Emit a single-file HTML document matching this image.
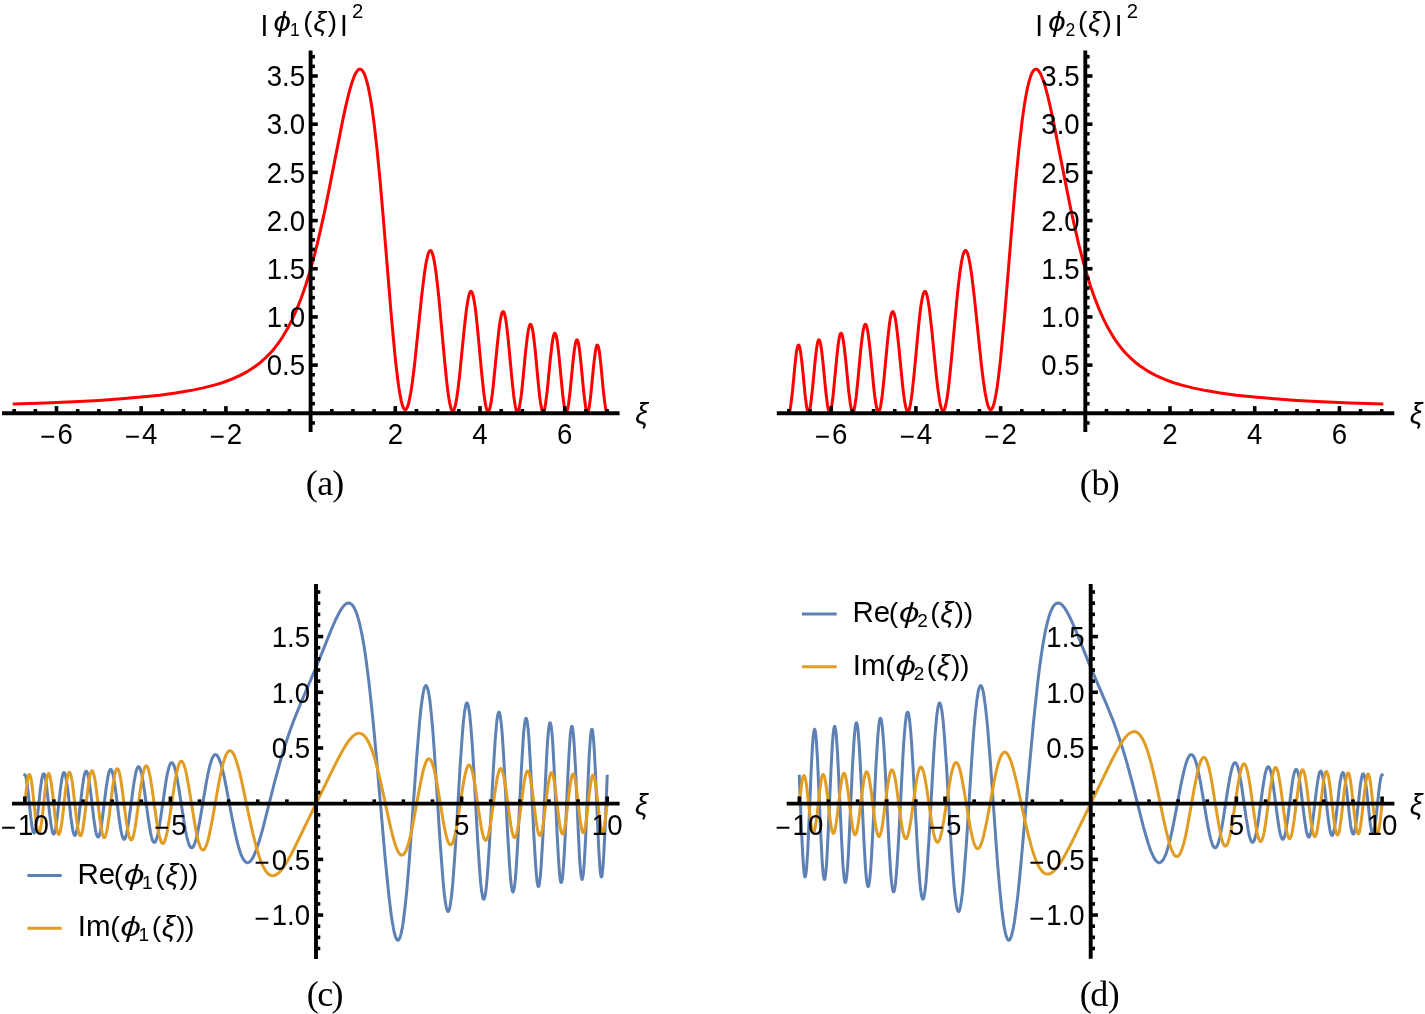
<!DOCTYPE html>
<html><head><meta charset="utf-8"><title>Figure</title>
<style>html,body{margin:0;padding:0;background:#fff;width:1425px;height:1014px;overflow:hidden}svg{display:block}</style>
</head><body>
<svg width="1425" height="1014" viewBox="0 0 1425 1014" font-family="Liberation Sans, Arial, sans-serif">
<polyline fill="none" stroke="#ff0000" stroke-width="3" stroke-linejoin="round" stroke-linecap="square" points="14.2,404.0 45.6,402.9 73.7,401.7 98.9,400.4 121.4,398.8 141.5,397.1 159.6,395.2 175.6,393.0 190.2,390.6 203.3,387.9 215.0,384.9 220.4,383.3 225.6,381.5 230.6,379.7 235.2,377.7 239.7,375.6 244.0,373.4 248.1,371.1 252.0,368.6 255.8,366.0 259.4,363.3 262.7,360.4 266.1,357.3 269.1,354.3 272.1,351.1 274.9,347.7 277.6,344.2 280.2,340.5 282.8,336.6 287.7,328.3 292.5,318.9 297.0,308.7 301.4,297.5 305.7,285.3 309.6,272.5 313.6,258.3 317.4,243.4 321.3,226.4 324.9,210.2 328.5,192.4 342.5,121.4 345.6,106.9 348.3,95.5 350.0,89.1 351.5,83.8 353.1,79.2 354.5,75.7 355.9,72.9 357.3,70.8 358.0,70.1 358.7,69.5 359.4,69.2 360.0,69.2 361.0,69.4 361.8,70.0 362.7,71.0 363.5,72.3 364.4,74.0 365.2,76.1 366.9,81.6 368.6,88.7 370.3,97.5 372.0,108.1 373.7,120.4 376.8,147.1 380.2,181.8 383.4,219.3 391.3,315.8 393.5,339.5 395.4,359.6 397.7,379.2 398.8,387.4 400.0,394.5 401.1,400.3 402.1,404.2 403.1,407.2 404.1,409.0 404.9,409.7 405.3,409.8 405.7,409.6 406.6,408.7 407.4,407.0 408.3,404.5 409.1,401.2 410.8,392.5 412.5,381.1 414.5,365.0 421.4,298.7 423.0,284.9 424.4,273.9 425.9,263.8 427.5,256.3 428.3,253.5 429.0,251.8 429.7,250.8 430.5,250.5 431.2,251.0 431.7,251.8 432.4,253.5 433.1,255.9 434.4,261.9 435.8,271.0 437.2,282.4 438.8,297.2 444.6,360.7 447.1,385.3 448.5,396.1 449.8,403.5 451.1,408.5 451.6,409.8 452.2,410.7 452.8,411.0 453.3,410.8 453.9,410.0 454.4,408.7 455.6,404.5 456.8,397.5 458.1,388.4 459.4,377.4 464.3,328.1 466.4,309.8 467.7,301.2 468.8,295.7 469.4,293.7 470.0,292.3 470.5,291.5 471.0,291.3 471.4,291.5 472.0,292.2 472.9,294.9 473.9,299.4 475.1,306.5 476.2,315.6 477.3,326.2 481.7,373.3 483.7,392.0 484.7,399.4 485.6,405.2 486.6,409.2 487.2,410.6 487.6,411.2 488.0,411.5 488.5,411.3 488.9,410.8 489.5,409.5 490.3,406.4 491.3,401.0 492.3,394.0 493.4,384.3 497.5,342.9 499.3,326.8 500.3,320.1 501.3,315.2 501.9,313.3 502.3,312.3 502.7,311.8 503.2,311.6 503.4,311.7 503.9,312.3 504.7,314.5 505.6,318.4 506.4,323.7 508.2,339.3 512.0,379.9 513.7,395.7 514.6,401.9 515.4,406.8 516.3,410.0 516.7,411.1 517.1,411.6 517.4,411.7 517.8,411.6 518.3,411.0 518.7,409.9 519.4,407.2 520.2,402.6 521.1,396.5 522.1,387.9 525.7,350.6 527.3,337.1 528.1,331.5 529.0,327.3 529.8,324.9 530.3,324.4 530.5,324.3 530.8,324.4 531.2,325.0 531.9,327.0 532.7,330.2 533.5,335.6 535.1,349.0 538.3,383.4 539.7,396.7 540.6,403.0 541.3,407.2 542.0,410.1 542.7,411.6 543.1,411.9 543.4,411.8 543.7,411.5 544.1,410.7 544.8,408.2 545.6,403.5 547.2,391.1 550.4,358.0 551.9,345.5 552.7,339.7 553.4,336.2 554.1,334.0 554.5,333.3 554.8,333.2 555.1,333.3 555.4,333.6 556.1,335.4 556.8,338.6 557.5,343.0 558.9,355.1 561.9,386.4 563.1,398.3 564.4,407.1 565.1,410.2 565.7,411.6 566.1,412.0 566.4,412.0 566.7,411.8 567.1,411.0 567.8,408.4 568.5,404.5 569.9,393.3 573.0,361.6 574.3,350.5 575.0,345.7 575.7,342.3 576.4,340.3 576.7,339.9 577.0,339.8 577.3,340.0 577.5,340.4 578.3,342.5 578.8,345.2 579.5,349.8 580.8,361.0 583.3,387.9 584.5,398.6 585.6,406.7 586.2,409.5 586.7,411.3 587.1,412.0 587.4,412.2 587.7,412.0 588.0,411.6 588.7,409.5 589.4,405.9 590.8,394.9 593.6,366.0 594.8,355.9 595.5,351.0 596.0,348.0 596.7,345.7 597.0,345.3 597.3,345.1 597.6,345.2 597.9,345.5 598.4,347.0 599.0,349.6 599.6,353.1 600.8,363.8 603.5,392.0 604.7,402.1 605.4,407.0 605.9,409.8 606.5,411.6 606.8,412.0 607.0,412.2"/>
<polyline fill="none" stroke="#ff0000" stroke-width="3" stroke-linejoin="round" stroke-linecap="square" points="788.8,412.2 789.1,412.0 789.4,411.6 790.0,409.8 790.5,407.0 791.2,402.1 792.4,392.0 795.1,363.8 796.3,353.1 796.9,349.6 797.5,347.0 798.0,345.5 798.3,345.2 798.6,345.1 798.9,345.3 799.2,345.7 799.9,348.0 800.4,351.0 801.1,355.9 802.3,366.0 805.1,394.9 806.5,405.9 807.2,409.5 807.9,411.6 808.2,412.0 808.5,412.2 808.8,412.0 809.2,411.3 809.7,409.5 810.3,406.7 811.4,398.6 812.6,387.9 815.1,361.0 816.4,349.8 817.1,345.2 817.6,342.5 818.4,340.4 818.6,340.0 818.9,339.8 819.2,339.9 819.5,340.3 820.2,342.3 820.9,345.7 821.6,350.5 822.9,361.6 826.0,393.3 827.4,404.5 828.1,408.4 828.8,411.0 829.2,411.8 829.5,412.0 829.8,412.0 830.2,411.6 830.8,410.2 831.5,407.1 832.8,398.3 834.0,386.4 837.0,355.1 838.4,343.0 839.1,338.6 839.8,335.4 840.5,333.6 840.8,333.3 841.1,333.2 841.4,333.3 841.8,334.0 842.5,336.2 843.2,339.7 844.0,345.5 845.5,358.0 848.7,391.1 850.3,403.5 851.1,408.2 851.8,410.7 852.2,411.5 852.5,411.8 852.8,411.9 853.2,411.6 853.9,410.1 854.6,407.2 855.3,403.0 856.2,396.7 857.6,383.4 860.8,349.0 862.4,335.6 863.2,330.2 864.0,327.0 864.7,325.0 865.1,324.4 865.4,324.3 865.6,324.4 866.1,324.9 866.9,327.3 867.8,331.5 868.6,337.1 870.2,350.6 873.8,387.9 874.8,396.5 875.7,402.6 876.5,407.2 877.2,409.9 877.6,411.0 878.1,411.6 878.5,411.7 878.8,411.6 879.2,411.1 879.6,410.0 880.5,406.8 881.3,401.9 882.2,395.7 883.9,379.9 887.7,339.3 889.5,323.7 890.3,318.4 891.2,314.5 892.0,312.3 892.5,311.7 892.7,311.6 893.2,311.8 893.6,312.3 894.0,313.3 894.6,315.2 895.6,320.1 896.6,326.8 898.4,342.9 902.5,384.3 903.6,394.0 904.6,401.0 905.6,406.4 906.4,409.5 907.0,410.8 907.4,411.3 907.9,411.5 908.3,411.2 908.7,410.6 909.3,409.2 910.3,405.2 911.2,399.4 912.2,392.0 914.2,373.3 918.6,326.2 919.7,315.6 920.8,306.5 922.0,299.4 923.0,294.9 923.9,292.2 924.5,291.5 924.9,291.3 925.4,291.5 925.9,292.3 926.5,293.7 927.1,295.7 928.2,301.2 929.5,309.8 931.6,328.1 936.5,377.4 937.8,388.4 939.1,397.5 940.3,404.5 941.5,408.7 942.0,410.0 942.6,410.8 943.1,411.0 943.7,410.7 944.3,409.8 944.8,408.5 946.1,403.5 947.4,396.1 948.8,385.3 951.3,360.7 957.1,297.2 958.7,282.4 960.1,271.0 961.5,261.9 962.8,255.9 963.5,253.5 964.2,251.8 964.7,251.0 965.4,250.5 966.2,250.8 966.9,251.8 967.6,253.5 968.4,256.3 970.0,263.8 971.5,273.9 972.9,284.9 974.5,298.7 981.4,365.0 983.4,381.1 985.1,392.5 986.8,401.2 987.6,404.5 988.5,407.0 989.3,408.7 990.2,409.6 990.6,409.8 991.0,409.7 991.8,409.0 992.8,407.2 993.8,404.2 994.8,400.3 995.9,394.5 997.1,387.4 998.2,379.2 1000.5,359.6 1002.4,339.5 1004.6,315.8 1012.5,219.3 1015.7,181.8 1019.1,147.1 1022.2,120.4 1023.9,108.1 1025.6,97.5 1027.3,88.7 1029.0,81.6 1030.7,76.1 1031.5,74.0 1032.4,72.3 1033.2,71.0 1034.1,70.0 1034.9,69.4 1035.9,69.2 1036.5,69.2 1037.2,69.5 1037.9,70.1 1038.6,70.8 1040.0,72.9 1041.4,75.7 1042.8,79.2 1044.4,83.8 1045.9,89.1 1047.6,95.5 1050.3,106.9 1053.4,121.4 1067.4,192.4 1071.0,210.2 1074.6,226.4 1078.5,243.4 1082.3,258.3 1086.3,272.5 1090.2,285.3 1094.5,297.5 1098.9,308.7 1103.4,318.9 1108.2,328.3 1113.1,336.6 1115.7,340.5 1118.3,344.2 1121.0,347.7 1123.8,351.1 1126.8,354.3 1129.8,357.3 1133.2,360.4 1136.5,363.3 1140.1,366.0 1143.9,368.6 1147.8,371.1 1151.9,373.4 1156.2,375.6 1160.7,377.7 1165.3,379.7 1170.3,381.5 1175.5,383.3 1180.9,384.9 1192.6,387.9 1205.7,390.6 1220.3,393.0 1236.3,395.2 1254.4,397.1 1274.5,398.8 1297.0,400.4 1322.2,401.7 1350.3,402.9 1381.8,404.0"/>
<polyline fill="none" stroke="#5e81b5" stroke-width="3.0" stroke-linejoin="round" stroke-linecap="square" points="24.8,774.8 25.1,774.9 25.4,775.4 26.0,777.2 26.5,780.0 27.1,783.7 28.2,792.5 30.8,817.4 32.0,826.2 32.6,829.5 33.1,831.4 33.6,832.7 34.1,833.1 34.4,832.9 34.7,832.4 35.3,830.7 35.9,828.0 36.5,823.7 37.7,814.2 40.3,789.6 41.7,779.7 42.4,776.4 43.0,774.4 43.4,773.9 43.7,773.8 44.0,773.9 44.4,774.6 44.9,776.0 45.5,778.5 46.5,785.4 49.9,816.0 51.2,825.7 51.9,829.6 52.5,832.1 53.0,833.6 53.3,834.0 53.6,834.1 53.9,834.0 54.2,833.7 54.9,832.0 55.6,829.0 56.2,824.9 57.5,815.1 60.4,788.9 61.9,778.7 62.6,775.5 63.2,773.4 63.6,772.8 63.9,772.6 64.2,772.6 64.5,772.9 65.1,774.1 65.7,776.2 66.9,783.3 68.1,792.4 70.9,817.4 72.3,827.2 72.9,830.9 73.6,833.5 74.3,835.1 74.6,835.4 74.9,835.4 75.2,835.3 75.6,834.8 76.2,832.9 76.9,830.0 77.7,825.6 79.1,815.4 82.2,788.6 83.7,778.1 84.5,774.4 85.2,772.3 85.9,771.3 86.1,771.1 86.5,771.3 87.2,772.4 87.9,774.6 88.6,777.8 89.3,782.4 90.7,792.6 93.7,818.1 95.3,828.7 96.0,832.6 96.7,835.1 97.4,836.6 97.8,837.0 98.1,837.1 98.5,836.9 98.9,836.4 99.6,834.4 100.4,831.3 101.2,827.0 102.7,816.0 106.1,788.2 107.9,776.9 108.7,773.3 109.4,770.8 110.2,769.5 110.6,769.3 111.0,769.4 111.4,769.8 111.8,770.5 112.5,772.7 113.3,776.0 114.2,780.9 115.7,791.0 119.2,819.6 121.0,830.7 121.8,834.4 122.5,837.0 123.3,838.7 123.7,839.1 124.1,839.3 124.5,839.1 125.0,838.6 125.8,836.6 126.7,833.3 127.7,828.3 129.4,816.7 133.4,786.4 134.4,780.0 135.4,774.7 136.2,771.0 137.1,768.4 138.0,766.9 138.4,766.7 138.9,766.7 139.2,767.1 139.7,767.8 140.6,770.0 141.6,773.7 142.5,778.6 144.3,789.8 148.6,821.1 150.6,833.1 151.6,837.2 152.5,840.2 153.5,842.0 154.0,842.3 154.4,842.4 154.9,842.2 155.4,841.6 156.4,839.3 157.5,835.6 158.7,830.0 160.6,818.3 165.4,785.2 166.6,777.6 167.8,771.8 168.9,767.3 170.0,764.5 170.6,763.5 171.1,762.9 171.6,762.7 172.1,762.8 172.6,763.1 173.2,763.9 174.4,766.6 175.5,770.7 176.7,776.0 178.9,788.8 184.2,823.1 185.5,830.8 186.8,836.8 188.1,841.7 189.3,845.2 190.0,846.5 190.6,847.3 191.2,847.7 191.8,847.8 192.3,847.6 193.0,847.0 193.7,845.9 194.4,844.4 195.8,840.1 197.3,834.1 199.9,820.5 206.4,781.7 208.2,772.8 209.8,765.7 211.5,760.3 212.2,758.3 213.0,756.8 213.8,755.7 214.6,754.9 215.3,754.6 216.1,754.8 216.9,755.3 217.7,756.2 218.4,757.5 219.3,759.4 221.0,764.1 222.7,770.6 224.3,777.4 225.9,785.4 231.9,817.3 234.4,829.4 236.8,840.2 239.1,848.8 240.4,852.7 241.5,855.7 242.8,858.4 244.0,860.3 245.1,861.6 246.4,862.5 247.7,862.7 248.9,862.4 250.0,861.6 251.2,860.3 252.3,858.6 253.5,856.5 255.9,850.9 258.6,843.0 260.9,835.5 263.4,826.3 274.6,782.0 280.5,760.6 283.8,749.5 287.1,739.2 290.5,729.3 294.1,719.6 300.5,703.7 317.0,665.1 331.3,629.6 335.9,619.2 339.6,611.9 341.2,609.2 342.9,606.9 344.4,605.1 345.9,603.9 347.3,603.2 348.6,603.0 349.9,603.2 351.0,603.9 352.2,604.9 353.3,606.3 354.3,608.1 355.4,610.3 356.5,613.0 357.5,616.1 359.6,623.5 361.6,632.7 363.7,643.9 365.6,656.5 367.4,670.1 369.3,685.3 373.1,721.3 376.8,761.3 384.9,855.4 387.1,878.0 389.0,896.6 391.2,914.7 392.3,921.9 393.4,928.1 394.4,933.0 395.4,936.5 396.4,938.8 396.9,939.6 397.3,940.1 397.8,940.2 398.3,940.1 398.8,939.7 399.3,939.0 400.3,936.7 401.1,933.5 402.1,928.9 403.1,923.0 405.0,907.8 407.0,888.4 409.1,862.8 416.5,759.9 419.4,724.1 421.0,708.0 422.6,696.3 423.4,692.0 424.1,688.8 424.9,686.6 425.6,685.7 426.0,685.6 426.4,685.8 427.0,686.8 427.7,688.7 428.4,691.6 429.8,700.0 431.2,712.8 432.7,729.1 434.3,751.1 440.2,843.4 442.8,877.8 444.1,892.2 445.4,902.3 446.1,906.3 446.7,908.8 447.3,910.7 447.9,911.4 448.2,911.4 448.5,911.2 449.1,910.1 449.7,908.1 450.2,905.3 451.4,897.0 452.6,885.5 453.7,871.2 455.1,851.5 460.1,766.5 462.2,736.3 463.3,722.6 464.5,712.1 465.6,705.9 466.2,703.9 466.6,703.0 466.9,702.9 467.1,702.9 467.6,703.6 468.1,705.0 468.7,707.7 469.8,715.2 470.8,726.1 471.9,739.9 473.1,757.8 477.6,839.2 479.6,869.3 480.6,882.2 481.6,891.1 482.6,896.8 483.1,898.5 483.5,899.2 483.8,899.3 484.0,899.1 484.4,898.4 484.9,896.7 485.4,894.1 486.3,887.4 487.2,876.9 488.2,863.6 489.3,846.4 493.3,770.0 495.1,741.5 496.1,729.0 496.9,720.5 497.8,714.8 498.3,713.0 498.7,712.3 499.1,712.2 499.5,712.7 499.8,713.9 500.3,716.2 501.2,722.9 502.1,732.5 503.0,746.2 504.0,762.5 507.8,836.3 509.5,864.2 510.3,875.8 511.2,884.5 512.1,889.9 512.5,891.2 512.9,891.8 513.0,891.9 513.2,891.7 513.6,890.9 514.4,887.1 515.2,880.6 516.0,871.5 517.7,843.4 521.2,772.8 522.8,745.5 523.6,733.5 524.4,725.6 525.2,720.4 525.6,719.0 525.9,718.4 526.1,718.3 526.2,718.3 526.5,718.8 526.9,720.1 527.3,722.2 528.1,728.6 528.9,737.9 530.5,765.2 533.8,833.9 535.3,860.2 536.1,871.3 536.8,879.6 537.6,884.8 538.0,886.1 538.3,886.6 538.6,886.6 539.0,885.8 539.6,882.4 540.3,876.5 541.1,866.9 542.7,840.2 545.7,775.7 547.0,750.1 547.8,738.5 548.5,730.8 549.2,725.5 549.5,723.7 549.8,723.0 550.0,722.8 550.2,722.8 550.5,723.3 551.2,726.4 551.9,732.3 552.6,740.7 554.1,767.7 557.1,833.6 558.4,857.5 559.1,867.7 559.7,875.5 560.4,880.5 560.8,882.1 561.1,882.6 561.4,882.6 561.7,882.0 562.4,878.5 562.9,873.2 563.6,864.5 565.1,838.3 567.9,775.2 569.1,752.4 570.3,734.6 571.0,729.0 571.6,726.6 571.9,726.3 572.2,726.6 572.5,727.5 572.8,729.6 573.4,734.7 574.1,743.3 575.5,767.7 578.3,831.9 579.4,855.1 580.1,865.6 580.7,872.5 581.3,877.2 581.9,879.4 582.2,879.5 582.4,879.0 583.1,875.5 583.7,869.9 584.4,860.5 585.7,836.5 589.1,757.3 590.3,739.1 590.9,733.3 591.4,730.3 591.7,729.4 592.0,729.2 592.3,729.6 592.6,731.2 593.3,736.8 594.0,745.6 595.3,769.2 597.8,829.0 598.9,851.4 600.0,869.0 600.6,874.2 601.1,876.5 601.4,876.9 601.7,876.7 602.0,875.7 602.3,873.4 602.9,867.6 603.6,857.8 604.9,832.5 607.2,776.2"/>
<polyline fill="none" stroke="#e19c24" stroke-width="3.0" stroke-linejoin="round" stroke-linecap="square" points="24.8,803.2 26.5,787.8 27.7,779.1 28.3,776.5 28.9,774.9 29.2,774.6 29.5,774.5 29.8,774.8 30.0,775.2 30.5,776.7 31.0,778.8 32.1,785.8 35.5,817.1 36.7,826.6 37.4,830.2 38.0,832.2 38.4,833.0 38.7,833.3 39.0,833.3 39.3,833.0 39.7,832.0 40.3,829.9 41.5,822.9 42.6,814.1 45.1,790.5 46.4,780.4 47.1,776.8 47.7,774.8 48.1,773.9 48.4,773.6 48.7,773.5 49.0,773.7 49.6,774.8 50.1,776.8 51.3,783.5 52.5,792.8 55.2,817.6 56.5,827.5 57.2,831.0 57.8,833.1 58.5,834.3 58.8,834.4 59.1,834.3 59.6,833.4 60.3,831.2 61.6,824.1 62.8,815.0 65.6,789.8 66.9,779.9 67.6,776.3 68.3,773.8 69.0,772.5 69.3,772.3 69.5,772.3 69.8,772.5 70.2,773.2 70.9,775.3 71.6,778.5 72.3,782.6 73.5,792.3 76.4,817.8 78.0,828.7 78.7,832.0 79.4,834.4 80.0,835.6 80.3,835.8 80.6,835.8 80.9,835.5 81.3,834.9 82.0,832.9 82.7,829.9 83.4,825.4 84.8,815.3 87.9,788.7 89.4,778.2 90.2,774.4 90.9,772.2 91.6,771.0 91.9,770.8 92.3,770.8 92.9,771.6 93.7,773.9 94.4,776.9 95.2,781.3 96.6,791.8 99.8,818.5 101.5,829.6 102.3,833.3 103.0,835.9 103.8,837.3 104.1,837.5 104.5,837.5 105.2,836.7 105.9,834.7 106.7,831.5 107.6,826.7 109.2,815.8 112.5,788.3 114.3,777.0 115.2,772.9 115.9,770.4 116.7,769.0 117.1,768.7 117.5,768.7 117.9,769.1 118.3,769.6 119.1,771.7 119.9,775.2 120.8,779.8 122.4,791.0 126.1,819.8 128.0,831.3 128.9,835.3 129.7,838.1 130.6,839.6 131.0,839.9 131.4,839.9 131.8,839.6 132.3,839.0 133.1,836.8 134.0,833.4 135.0,828.5 136.7,817.1 140.8,786.5 142.7,774.9 143.7,770.7 144.6,767.9 145.1,766.9 145.6,766.2 145.9,765.9 146.4,765.9 146.9,766.2 147.4,766.8 148.4,769.2 149.3,772.8 150.4,778.0 152.2,789.5 156.7,821.5 157.9,828.6 158.9,834.2 160.0,838.6 161.0,841.4 161.6,842.5 162.1,843.1 162.5,843.4 163.0,843.4 163.5,843.1 164.1,842.4 165.2,839.9 166.2,836.1 167.4,830.7 169.5,818.1 174.5,784.6 175.8,776.8 177.0,771.1 178.2,766.6 179.3,763.4 179.9,762.3 180.5,761.6 181.0,761.3 181.6,761.3 182.1,761.6 182.7,762.3 183.3,763.3 184.0,764.9 185.3,769.0 186.6,774.9 189.0,788.2 194.8,824.1 196.3,832.5 197.8,839.1 199.2,844.3 200.6,847.7 201.3,848.8 201.9,849.5 202.6,849.9 203.3,849.9 204.0,849.5 204.8,848.6 205.4,847.5 206.2,845.7 207.8,841.0 209.3,834.9 212.2,820.4 219.2,780.9 221.3,771.0 223.1,763.5 225.0,757.6 225.9,755.2 226.8,753.5 227.8,752.1 228.6,751.2 229.5,750.8 230.5,750.8 231.4,751.3 232.3,752.2 233.3,753.7 234.3,755.5 236.3,760.8 238.4,767.9 240.3,775.2 242.3,784.1 249.7,819.2 252.9,833.6 256.2,846.7 259.3,856.9 261.0,861.5 262.5,865.1 264.2,868.4 265.8,871.1 267.5,873.1 269.2,874.6 271.0,875.5 272.7,875.8 274.3,875.6 275.8,874.9 277.5,873.9 279.2,872.4 281.1,870.4 282.9,868.0 284.8,865.2 287.0,861.8 291.1,854.5 295.9,845.0 330.9,773.2 336.8,761.4 341.2,753.0 343.8,748.5 346.1,744.7 348.3,741.5 350.4,738.8 352.3,736.7 354.2,735.0 356.0,734.0 357.7,733.3 358.7,733.2 359.7,733.2 361.5,733.8 363.4,734.9 365.1,736.7 366.9,739.2 368.6,742.3 370.4,746.1 372.1,750.7 373.7,755.3 375.3,760.7 378.7,773.7 382.0,788.1 389.6,823.1 391.6,831.7 393.5,838.8 395.6,845.7 397.5,850.5 398.5,852.3 399.5,853.7 400.4,854.6 401.3,855.1 402.3,855.1 403.2,854.7 404.0,853.9 405.0,852.5 405.9,850.9 406.9,848.6 408.7,842.8 410.5,835.6 412.6,826.0 419.7,787.2 422.6,773.1 424.1,767.2 425.7,762.7 426.5,761.0 427.1,759.9 427.9,759.1 428.6,758.8 429.3,758.8 430.0,759.2 430.6,759.9 431.3,761.1 432.7,764.4 434.1,769.4 435.6,775.9 437.1,784.1 442.8,818.4 445.2,831.4 446.6,837.1 447.8,841.2 448.5,842.7 449.1,843.8 449.7,844.4 450.2,844.8 450.8,844.8 451.4,844.4 452.0,843.7 452.6,842.7 453.7,839.5 454.9,835.1 456.1,829.6 457.4,822.0 462.4,789.5 464.5,777.3 465.7,772.1 466.7,768.5 467.8,766.1 468.4,765.4 468.9,765.1 469.4,765.1 469.9,765.5 470.3,766.1 470.9,767.2 471.9,769.9 473.0,774.2 474.0,779.6 475.2,786.6 479.6,816.9 481.5,828.6 482.6,833.7 483.5,837.1 484.5,839.4 485.0,840.0 485.5,840.3 486.0,840.2 486.4,839.9 487.2,838.5 488.1,835.9 489.1,831.9 490.0,826.8 491.1,820.2 495.2,790.6 496.9,779.6 497.9,774.8 498.8,771.6 499.7,769.5 500.1,768.8 500.5,768.6 500.9,768.6 501.3,768.9 502.2,770.4 503.0,773.1 503.9,776.9 505.8,788.1 509.5,816.0 511.0,826.2 511.9,830.8 512.8,834.4 513.6,836.6 514.0,837.2 514.4,837.5 514.8,837.5 515.2,837.2 516.0,835.9 516.7,833.4 517.6,829.5 519.4,818.5 522.8,792.0 524.3,781.4 525.2,776.7 526.0,773.7 526.7,771.7 527.4,770.9 527.8,770.9 528.1,771.1 528.9,772.5 529.6,775.0 530.4,778.6 532.1,789.3 535.3,815.1 536.7,825.3 537.5,829.6 538.2,832.5 539.0,834.6 539.6,835.5 540.0,835.5 540.3,835.3 541.0,834.1 541.7,831.9 542.5,828.3 544.0,818.1 547.1,792.5 548.5,782.7 549.3,778.3 549.9,775.4 550.6,773.5 551.0,772.9 551.3,772.7 551.6,772.6 552.0,772.9 552.6,774.2 553.3,776.6 554.0,780.0 555.5,789.9 558.4,814.6 559.6,823.9 560.3,828.0 561.0,831.0 561.7,833.1 562.1,833.7 562.4,834.0 562.6,834.0 562.9,833.8 563.6,832.5 564.3,830.1 565.0,826.7 566.3,817.2 569.1,792.9 570.3,784.0 571.6,777.1 572.3,775.0 572.8,774.1 573.1,774.0 573.4,774.1 574.1,775.3 574.7,777.2 575.4,780.6 576.7,790.1 579.4,814.0 580.6,823.0 581.3,827.2 581.9,829.9 582.4,831.8 583.0,832.7 583.3,832.8 583.6,832.7 584.3,831.4 584.9,829.2 585.6,825.7 586.8,816.5 589.3,793.8 590.4,785.2 591.6,778.5 592.2,776.4 592.6,775.4 592.9,775.1 593.2,775.1 593.5,775.3 593.9,776.1 594.5,778.0 595.2,781.5 596.4,790.6 599.9,821.5 601.0,828.0 601.5,830.0 602.0,831.3 602.2,831.7 602.5,831.8 602.8,831.7 603.1,831.3 603.7,829.6 604.3,827.0 605.5,818.4 607.2,803.4"/>
<polyline fill="none" stroke="#5e81b5" stroke-width="3.0" stroke-linejoin="round" stroke-linecap="square" points="799.3,776.2 801.6,832.5 802.9,857.8 803.6,867.6 804.2,873.4 804.5,875.7 804.8,876.7 805.1,876.9 805.4,876.5 805.9,874.2 806.5,869.0 807.7,851.4 808.7,829.0 811.2,769.2 812.5,745.6 813.2,736.8 813.9,731.2 814.3,729.6 814.5,729.2 814.8,729.4 815.1,730.3 815.6,733.3 816.2,739.1 817.4,757.3 820.9,836.5 822.1,860.5 822.8,869.9 823.4,875.5 824.1,879.0 824.4,879.5 824.7,879.4 825.2,877.2 825.8,872.5 826.4,865.6 827.1,855.1 828.2,831.9 831.1,767.7 832.4,743.3 833.1,734.7 833.7,729.6 834.1,727.5 834.4,726.6 834.7,726.3 834.9,726.6 835.5,729.0 836.2,734.6 837.5,752.4 838.6,775.2 841.5,838.3 842.9,864.5 843.6,873.2 844.2,878.5 844.9,882.0 845.1,882.6 845.4,882.6 845.7,882.1 846.1,880.5 846.8,875.5 847.5,867.7 848.2,857.5 849.4,833.6 852.4,767.7 854.0,740.7 854.7,732.3 855.3,726.4 856.0,723.3 856.3,722.8 856.5,722.8 856.7,723.0 857.0,723.7 857.4,725.5 858.1,730.8 858.7,738.5 859.5,750.1 860.9,775.7 863.9,840.2 865.4,866.9 866.2,876.5 866.9,882.4 867.6,885.8 868.0,886.6 868.3,886.6 868.6,886.1 868.9,884.8 869.7,879.6 870.5,871.3 871.3,860.2 872.7,833.9 876.0,765.2 877.7,737.9 878.5,728.6 879.2,722.2 879.6,720.1 880.0,718.8 880.3,718.3 880.5,718.3 880.7,718.4 881.0,719.0 881.4,720.4 882.2,725.6 882.9,733.5 883.8,745.5 885.4,772.8 888.9,843.4 890.6,871.5 891.4,880.6 892.2,887.1 892.9,890.9 893.3,891.7 893.5,891.9 893.7,891.8 894.1,891.2 894.5,889.9 895.4,884.5 896.2,875.8 897.1,864.2 898.8,836.3 902.6,762.5 903.5,746.2 904.5,732.5 905.4,722.9 906.2,716.2 906.7,713.9 907.1,712.7 907.5,712.2 907.9,712.3 908.3,713.0 908.8,714.8 909.6,720.5 910.5,729.0 911.5,741.5 913.2,770.0 917.3,846.4 918.4,863.6 919.4,876.9 920.3,887.4 921.2,894.1 921.7,896.7 922.2,898.4 922.6,899.1 922.8,899.3 923.0,899.2 923.5,898.5 924.0,896.8 925.0,891.1 926.0,882.2 927.0,869.3 929.0,839.2 933.5,757.8 934.7,739.9 935.8,726.1 936.8,715.2 937.9,707.7 938.5,705.0 939.0,703.6 939.5,702.9 939.7,702.9 939.9,703.0 940.4,703.9 941.0,705.9 942.1,712.1 943.3,722.6 944.4,736.3 946.5,766.5 951.5,851.5 952.9,871.2 954.0,885.5 955.2,897.0 956.4,905.3 956.9,908.1 957.5,910.1 958.1,911.2 958.4,911.4 958.7,911.4 959.3,910.7 960.0,908.8 960.5,906.3 961.2,902.3 962.5,892.2 963.8,877.8 966.4,843.4 972.3,751.1 973.9,729.1 975.4,712.8 976.9,700.0 978.2,691.6 978.9,688.7 979.6,686.8 980.3,685.8 980.6,685.6 981.0,685.7 981.7,686.6 982.5,688.8 983.3,692.0 984.0,696.3 985.6,708.0 987.3,724.1 990.2,759.9 997.5,862.8 999.7,888.4 1001.6,907.8 1003.6,923.0 1004.5,928.9 1005.5,933.5 1006.4,936.7 1007.4,939.0 1007.8,939.7 1008.3,940.1 1008.8,940.2 1009.3,940.1 1009.8,939.6 1010.3,938.8 1011.2,936.5 1012.2,933.0 1013.3,928.1 1014.4,921.9 1015.4,914.7 1017.7,896.6 1019.6,878.0 1021.7,855.4 1029.9,761.3 1033.6,721.3 1037.4,685.3 1039.2,670.1 1041.1,656.5 1043.0,643.9 1045.0,632.7 1047.1,623.5 1049.1,616.1 1050.2,613.0 1051.3,610.3 1052.3,608.1 1053.4,606.3 1054.5,604.9 1055.6,603.9 1056.8,603.2 1058.1,603.0 1059.4,603.2 1060.8,603.9 1062.2,605.1 1063.8,606.9 1065.4,609.2 1067.1,611.9 1070.8,619.2 1075.4,629.6 1089.7,665.1 1106.2,703.7 1112.7,719.6 1116.2,729.3 1119.6,739.2 1122.9,749.5 1126.3,760.6 1132.1,782.0 1143.3,826.3 1145.9,835.5 1148.1,843.0 1150.8,850.9 1153.3,856.5 1154.4,858.6 1155.6,860.3 1156.8,861.6 1157.8,862.4 1159.1,862.7 1160.3,862.5 1161.6,861.6 1162.8,860.3 1163.9,858.4 1165.2,855.7 1166.4,852.7 1167.6,848.8 1170.0,840.2 1172.4,829.4 1174.8,817.3 1180.8,785.4 1182.5,777.4 1184.0,770.6 1185.8,764.1 1187.4,759.4 1188.3,757.5 1189.1,756.2 1189.9,755.3 1190.7,754.8 1191.4,754.6 1192.2,754.9 1193.0,755.7 1193.8,756.8 1194.5,758.3 1195.3,760.3 1197.0,765.7 1198.6,772.8 1200.4,781.7 1206.9,820.5 1209.5,834.1 1211.0,840.1 1212.4,844.4 1213.1,845.9 1213.8,847.0 1214.4,847.6 1215.0,847.8 1215.6,847.7 1216.2,847.3 1216.8,846.5 1217.5,845.2 1218.7,841.7 1220.0,836.8 1221.2,830.8 1222.6,823.1 1227.9,788.8 1230.1,776.0 1231.3,770.7 1232.4,766.6 1233.6,763.9 1234.2,763.1 1234.7,762.8 1235.2,762.7 1235.7,762.9 1236.2,763.5 1236.8,764.5 1237.9,767.3 1239.0,771.8 1240.2,777.6 1241.5,785.2 1246.2,818.3 1248.2,830.0 1249.3,835.6 1250.4,839.3 1251.5,841.6 1251.9,842.2 1252.4,842.4 1252.8,842.3 1253.3,842.0 1254.3,840.2 1255.2,837.2 1256.2,833.1 1258.3,821.1 1262.5,789.8 1264.3,778.6 1265.2,773.7 1266.2,770.0 1267.1,767.8 1267.6,767.1 1268.0,766.7 1268.5,766.7 1268.8,766.9 1269.7,768.4 1270.6,771.0 1271.5,774.7 1272.4,780.0 1273.4,786.4 1277.4,816.7 1279.1,828.3 1280.1,833.3 1281.0,836.6 1281.9,838.6 1282.3,839.1 1282.7,839.3 1283.1,839.1 1283.5,838.7 1284.3,837.0 1285.1,834.4 1285.8,830.7 1287.6,819.6 1291.2,791.0 1292.6,780.9 1293.5,776.0 1294.3,772.7 1295.1,770.5 1295.5,769.8 1295.8,769.4 1296.2,769.3 1296.6,769.5 1297.4,770.8 1298.2,773.3 1299.0,776.9 1300.7,788.2 1304.1,816.0 1305.7,827.0 1306.4,831.3 1307.2,834.4 1308.0,836.4 1308.4,836.9 1308.8,837.1 1309.1,837.0 1309.4,836.6 1310.1,835.1 1310.8,832.6 1311.6,828.7 1313.1,818.1 1316.1,792.6 1317.5,782.4 1318.3,777.8 1319.0,774.6 1319.6,772.4 1320.3,771.3 1320.7,771.1 1321.0,771.3 1321.7,772.3 1322.4,774.4 1323.1,778.1 1324.7,788.6 1327.8,815.4 1329.2,825.6 1329.9,830.0 1330.6,832.9 1331.3,834.8 1331.7,835.3 1332.0,835.4 1332.3,835.4 1332.6,835.1 1333.2,833.5 1333.9,830.9 1334.6,827.2 1336.0,817.4 1338.8,792.4 1339.9,783.3 1341.2,776.2 1341.8,774.1 1342.4,772.9 1342.7,772.6 1343.0,772.6 1343.2,772.8 1343.6,773.4 1344.3,775.5 1345.0,778.7 1346.5,788.9 1349.4,815.1 1350.6,824.9 1351.3,829.0 1352.0,832.0 1352.7,833.7 1353.0,834.0 1353.3,834.1 1353.5,834.0 1353.8,833.6 1354.4,832.1 1355.0,829.6 1355.7,825.7 1356.9,816.0 1360.3,785.4 1361.4,778.5 1362.0,776.0 1362.5,774.6 1362.9,773.9 1363.2,773.8 1363.5,773.9 1363.8,774.4 1364.5,776.4 1365.2,779.7 1366.6,789.6 1369.2,814.2 1370.3,823.7 1371.0,828.0 1371.6,830.7 1372.2,832.4 1372.5,832.9 1372.8,833.1 1373.3,832.7 1373.8,831.4 1374.3,829.5 1374.9,826.2 1376.1,817.4 1378.7,792.5 1379.8,783.7 1380.4,780.0 1380.9,777.2 1381.5,775.4 1381.8,774.9 1382.1,774.8"/>
<polyline fill="none" stroke="#e19c24" stroke-width="3.0" stroke-linejoin="round" stroke-linecap="square" points="799.3,804.0 801.0,788.9 802.2,780.3 802.8,777.7 803.4,776.1 803.7,775.7 804.0,775.5 804.3,775.7 804.5,776.1 805.0,777.3 805.5,779.3 806.6,785.8 810.1,816.7 811.3,825.9 812.0,829.3 812.6,831.3 813.0,832.0 813.3,832.3 813.6,832.3 813.9,832.0 814.4,831.0 814.9,828.9 816.1,822.1 817.2,813.6 819.7,790.9 821.0,781.7 821.6,778.1 822.2,776.0 822.9,774.7 823.2,774.5 823.5,774.6 824.1,775.5 824.7,777.4 825.2,780.1 825.9,784.3 827.1,793.3 829.8,817.3 831.2,826.8 831.8,830.1 832.4,832.1 833.1,833.3 833.4,833.4 833.7,833.3 834.3,832.4 834.9,830.2 836.2,823.3 837.4,814.5 840.2,790.1 841.6,780.7 842.2,777.2 842.9,774.8 843.6,773.5 843.9,773.3 844.2,773.4 844.5,773.6 844.9,774.3 845.5,776.3 846.2,779.4 846.9,783.4 848.2,792.8 851.1,817.4 852.5,827.3 853.2,830.7 853.9,833.1 854.6,834.4 855.0,834.7 855.2,834.7 855.5,834.5 855.9,833.8 856.6,831.9 857.3,829.0 858.1,824.6 859.4,814.8 862.5,789.2 864.1,779.0 864.9,775.4 865.5,773.2 866.2,772.0 866.5,771.8 866.9,771.9 867.6,772.7 868.4,774.9 869.0,777.8 869.8,782.0 871.3,792.2 874.5,818.0 876.1,828.7 876.9,832.3 877.7,834.9 878.5,836.2 878.8,836.4 879.1,836.4 879.8,835.6 880.6,833.7 881.4,830.6 882.3,826.0 883.8,815.4 887.2,788.8 889.0,777.9 889.8,773.9 890.6,771.5 891.4,770.1 891.8,769.9 892.2,769.9 892.5,770.2 892.9,770.7 893.8,773.0 894.7,776.5 895.6,781.1 897.1,791.4 900.8,819.2 902.6,830.4 903.5,834.3 904.4,837.0 905.3,838.5 905.7,838.7 906.0,838.7 906.4,838.5 906.9,837.9 907.8,835.8 908.7,832.5 909.6,827.7 911.4,816.7 915.5,787.2 916.5,780.5 917.5,775.4 918.5,771.4 919.4,768.9 920.2,767.4 920.6,767.1 921.1,767.1 921.6,767.3 922.1,768.0 923.0,770.2 924.0,773.7 925.1,778.7 927.0,790.5 931.4,820.8 932.6,827.7 933.6,833.1 934.7,837.4 935.7,840.2 936.3,841.3 936.7,841.9 937.2,842.2 937.7,842.2 938.2,841.9 938.8,841.2 939.9,838.8 940.9,835.2 942.1,830.0 944.2,817.8 949.2,785.4 950.5,777.7 951.7,772.2 952.9,767.8 954.0,764.7 954.6,763.6 955.2,762.9 955.8,762.6 956.4,762.5 956.9,762.9 957.5,763.6 958.1,764.6 958.8,766.2 960.1,770.2 961.4,776.0 963.8,789.0 969.5,823.3 971.0,831.4 972.5,837.9 973.9,843.0 975.3,846.3 976.0,847.4 976.7,848.2 977.3,848.6 978.0,848.6 978.7,848.2 979.5,847.4 980.2,846.3 980.9,844.7 982.5,840.1 984.0,834.2 987.0,820.2 994.1,781.4 996.1,771.8 997.9,764.5 999.8,758.8 1000.8,756.5 1001.6,754.8 1002.6,753.4 1003.5,752.6 1004.3,752.2 1005.3,752.3 1006.2,752.7 1007.2,753.6 1008.1,755.0 1009.1,756.9 1011.1,761.7 1013.2,768.6 1015.0,775.6 1017.1,784.2 1024.6,819.3 1028.0,833.6 1031.4,846.6 1033.0,852.1 1034.6,856.7 1036.3,861.2 1038.1,865.0 1039.8,868.2 1041.6,870.6 1043.3,872.4 1045.1,873.6 1047.0,874.1 1048.0,874.1 1048.9,874.0 1050.7,873.4 1052.4,872.3 1054.4,870.6 1056.3,868.5 1058.4,865.9 1060.6,862.6 1062.9,858.8 1065.4,854.4 1069.9,846.0 1075.8,834.1 1110.8,762.3 1115.7,752.9 1119.7,745.6 1121.9,742.2 1123.8,739.3 1125.7,737.0 1127.5,735.0 1129.3,733.4 1130.9,732.4 1132.5,731.8 1134.0,731.6 1135.8,731.8 1137.5,732.7 1139.3,734.2 1140.9,736.2 1142.6,738.9 1144.2,742.2 1145.8,745.9 1147.4,750.4 1150.5,760.7 1153.8,773.8 1157.0,788.1 1164.4,823.2 1166.5,832.1 1168.3,839.4 1170.4,846.6 1172.5,851.8 1173.5,853.7 1174.4,855.1 1175.4,856.1 1176.3,856.5 1177.2,856.5 1178.1,856.1 1179.0,855.3 1180.0,853.9 1180.8,852.1 1181.8,849.7 1183.7,843.8 1185.5,836.3 1187.5,826.4 1194.5,787.0 1197.4,772.5 1199.0,766.3 1200.6,761.6 1201.3,759.9 1202.0,758.7 1202.8,757.8 1203.5,757.4 1204.2,757.4 1204.8,757.8 1205.5,758.6 1206.2,759.7 1207.6,763.1 1209.0,768.2 1210.5,774.8 1212.0,783.2 1217.8,819.1 1220.2,832.5 1221.5,838.4 1222.8,842.5 1223.5,844.1 1224.1,845.1 1224.6,845.8 1225.2,846.1 1225.8,846.0 1226.3,845.7 1226.9,845.0 1227.5,843.9 1228.6,840.8 1229.8,836.3 1231.0,830.6 1232.3,822.7 1237.3,789.3 1239.4,776.6 1240.6,771.2 1241.6,767.5 1242.7,765.0 1243.3,764.2 1243.8,763.9 1244.3,763.9 1244.8,764.2 1245.2,764.8 1245.8,766.0 1246.8,768.8 1247.9,773.1 1248.9,778.7 1250.1,785.9 1254.6,817.8 1256.4,829.3 1257.5,834.6 1258.4,838.2 1259.4,840.5 1259.9,841.2 1260.4,841.5 1260.9,841.4 1261.3,841.1 1261.8,840.4 1262.2,839.4 1263.1,836.7 1264.1,832.5 1266.0,820.8 1270.1,790.3 1271.9,778.9 1272.8,773.9 1273.7,770.6 1274.6,768.4 1275.1,767.7 1275.4,767.4 1275.8,767.5 1276.2,767.7 1277.1,769.2 1278.0,772.0 1278.8,776.0 1280.7,787.5 1284.4,816.3 1286.0,827.5 1286.9,832.2 1287.8,835.7 1288.6,837.7 1288.9,838.3 1289.3,838.6 1289.7,838.6 1290.1,838.3 1290.9,836.9 1291.7,834.4 1292.5,830.4 1294.3,819.0 1297.7,791.6 1299.2,780.6 1300.1,775.8 1300.9,772.7 1301.7,770.6 1302.4,769.8 1302.7,769.8 1303.0,770.0 1303.8,771.4 1304.6,774.0 1305.4,777.8 1307.0,788.8 1310.2,815.5 1311.7,826.1 1312.5,830.5 1313.1,833.5 1313.9,835.7 1314.6,836.6 1315.0,836.6 1315.3,836.4 1316.0,835.1 1316.6,832.9 1317.4,829.2 1319.0,818.6 1322.1,792.1 1323.4,781.9 1324.2,777.4 1324.9,774.4 1325.6,772.4 1326.0,771.8 1326.2,771.6 1326.5,771.6 1326.8,771.7 1327.5,773.0 1328.2,775.3 1328.9,778.7 1330.4,789.5 1333.3,815.0 1334.6,824.7 1335.3,828.8 1336.0,832.0 1336.6,834.1 1337.0,834.8 1337.3,835.0 1337.6,835.1 1337.9,834.9 1338.6,833.5 1339.3,831.0 1339.9,827.4 1341.3,817.6 1344.1,792.4 1345.3,783.3 1346.5,776.2 1347.2,773.9 1347.8,773.0 1348.1,772.9 1348.4,773.0 1349.1,774.3 1349.7,776.3 1350.3,779.8 1351.7,789.7 1354.4,814.5 1355.6,823.8 1356.7,830.5 1357.3,832.6 1357.9,833.7 1358.2,833.8 1358.5,833.8 1358.8,833.4 1359.2,832.6 1359.8,830.5 1360.4,827.0 1361.8,816.8 1364.3,793.3 1365.4,784.5 1366.6,777.5 1367.1,775.3 1367.6,774.3 1367.9,774.1 1368.2,774.1 1368.5,774.3 1368.9,775.1 1369.5,777.2 1370.2,780.8 1371.4,790.3 1374.8,821.6 1375.9,828.5 1376.4,830.7 1376.9,832.1 1377.1,832.6 1377.4,832.8 1377.7,832.7 1378.0,832.4 1378.6,830.9 1379.2,828.3 1380.4,819.6 1382.1,804.1"/>
<line x1="2.10" y1="413.30" x2="619.60" y2="413.30" stroke="#000" stroke-width="3.9"/>
<line x1="310.60" y1="50.50" x2="310.60" y2="431.90" stroke="#000" stroke-width="3.9"/>
<line x1="14.15" y1="413.30" x2="14.15" y2="409.00" stroke="#000" stroke-width="3.6"/>
<line x1="35.32" y1="413.30" x2="35.32" y2="409.00" stroke="#000" stroke-width="3.6"/>
<line x1="56.50" y1="413.30" x2="56.50" y2="406.10" stroke="#000" stroke-width="3.6"/>
<line x1="77.68" y1="413.30" x2="77.68" y2="409.00" stroke="#000" stroke-width="3.6"/>
<line x1="98.85" y1="413.30" x2="98.85" y2="409.00" stroke="#000" stroke-width="3.6"/>
<line x1="120.03" y1="413.30" x2="120.03" y2="409.00" stroke="#000" stroke-width="3.6"/>
<line x1="141.20" y1="413.30" x2="141.20" y2="406.10" stroke="#000" stroke-width="3.6"/>
<line x1="162.38" y1="413.30" x2="162.38" y2="409.00" stroke="#000" stroke-width="3.6"/>
<line x1="183.55" y1="413.30" x2="183.55" y2="409.00" stroke="#000" stroke-width="3.6"/>
<line x1="204.73" y1="413.30" x2="204.73" y2="409.00" stroke="#000" stroke-width="3.6"/>
<line x1="225.90" y1="413.30" x2="225.90" y2="406.10" stroke="#000" stroke-width="3.6"/>
<line x1="247.08" y1="413.30" x2="247.08" y2="409.00" stroke="#000" stroke-width="3.6"/>
<line x1="268.25" y1="413.30" x2="268.25" y2="409.00" stroke="#000" stroke-width="3.6"/>
<line x1="289.43" y1="413.30" x2="289.43" y2="409.00" stroke="#000" stroke-width="3.6"/>
<line x1="331.78" y1="413.30" x2="331.78" y2="409.00" stroke="#000" stroke-width="3.6"/>
<line x1="352.95" y1="413.30" x2="352.95" y2="409.00" stroke="#000" stroke-width="3.6"/>
<line x1="374.12" y1="413.30" x2="374.12" y2="409.00" stroke="#000" stroke-width="3.6"/>
<line x1="395.30" y1="413.30" x2="395.30" y2="406.10" stroke="#000" stroke-width="3.6"/>
<line x1="416.48" y1="413.30" x2="416.48" y2="409.00" stroke="#000" stroke-width="3.6"/>
<line x1="437.65" y1="413.30" x2="437.65" y2="409.00" stroke="#000" stroke-width="3.6"/>
<line x1="458.83" y1="413.30" x2="458.83" y2="409.00" stroke="#000" stroke-width="3.6"/>
<line x1="480.00" y1="413.30" x2="480.00" y2="406.10" stroke="#000" stroke-width="3.6"/>
<line x1="501.18" y1="413.30" x2="501.18" y2="409.00" stroke="#000" stroke-width="3.6"/>
<line x1="522.35" y1="413.30" x2="522.35" y2="409.00" stroke="#000" stroke-width="3.6"/>
<line x1="543.53" y1="413.30" x2="543.53" y2="409.00" stroke="#000" stroke-width="3.6"/>
<line x1="564.70" y1="413.30" x2="564.70" y2="406.10" stroke="#000" stroke-width="3.6"/>
<line x1="585.88" y1="413.30" x2="585.88" y2="409.00" stroke="#000" stroke-width="3.6"/>
<line x1="607.05" y1="413.30" x2="607.05" y2="409.00" stroke="#000" stroke-width="3.6"/>
<line x1="310.60" y1="422.94" x2="314.90" y2="422.94" stroke="#000" stroke-width="3.6"/>
<line x1="310.60" y1="403.66" x2="314.90" y2="403.66" stroke="#000" stroke-width="3.6"/>
<line x1="310.60" y1="394.03" x2="314.90" y2="394.03" stroke="#000" stroke-width="3.6"/>
<line x1="310.60" y1="384.39" x2="314.90" y2="384.39" stroke="#000" stroke-width="3.6"/>
<line x1="310.60" y1="374.75" x2="314.90" y2="374.75" stroke="#000" stroke-width="3.6"/>
<line x1="310.60" y1="365.12" x2="317.80" y2="365.12" stroke="#000" stroke-width="3.6"/>
<line x1="310.60" y1="355.48" x2="314.90" y2="355.48" stroke="#000" stroke-width="3.6"/>
<line x1="310.60" y1="345.84" x2="314.90" y2="345.84" stroke="#000" stroke-width="3.6"/>
<line x1="310.60" y1="336.20" x2="314.90" y2="336.20" stroke="#000" stroke-width="3.6"/>
<line x1="310.60" y1="326.57" x2="314.90" y2="326.57" stroke="#000" stroke-width="3.6"/>
<line x1="310.60" y1="316.93" x2="317.80" y2="316.93" stroke="#000" stroke-width="3.6"/>
<line x1="310.60" y1="307.29" x2="314.90" y2="307.29" stroke="#000" stroke-width="3.6"/>
<line x1="310.60" y1="297.66" x2="314.90" y2="297.66" stroke="#000" stroke-width="3.6"/>
<line x1="310.60" y1="288.02" x2="314.90" y2="288.02" stroke="#000" stroke-width="3.6"/>
<line x1="310.60" y1="278.38" x2="314.90" y2="278.38" stroke="#000" stroke-width="3.6"/>
<line x1="310.60" y1="268.75" x2="317.80" y2="268.75" stroke="#000" stroke-width="3.6"/>
<line x1="310.60" y1="259.11" x2="314.90" y2="259.11" stroke="#000" stroke-width="3.6"/>
<line x1="310.60" y1="249.47" x2="314.90" y2="249.47" stroke="#000" stroke-width="3.6"/>
<line x1="310.60" y1="239.83" x2="314.90" y2="239.83" stroke="#000" stroke-width="3.6"/>
<line x1="310.60" y1="230.20" x2="314.90" y2="230.20" stroke="#000" stroke-width="3.6"/>
<line x1="310.60" y1="220.56" x2="317.80" y2="220.56" stroke="#000" stroke-width="3.6"/>
<line x1="310.60" y1="210.92" x2="314.90" y2="210.92" stroke="#000" stroke-width="3.6"/>
<line x1="310.60" y1="201.29" x2="314.90" y2="201.29" stroke="#000" stroke-width="3.6"/>
<line x1="310.60" y1="191.65" x2="314.90" y2="191.65" stroke="#000" stroke-width="3.6"/>
<line x1="310.60" y1="182.01" x2="314.90" y2="182.01" stroke="#000" stroke-width="3.6"/>
<line x1="310.60" y1="172.38" x2="317.80" y2="172.38" stroke="#000" stroke-width="3.6"/>
<line x1="310.60" y1="162.74" x2="314.90" y2="162.74" stroke="#000" stroke-width="3.6"/>
<line x1="310.60" y1="153.10" x2="314.90" y2="153.10" stroke="#000" stroke-width="3.6"/>
<line x1="310.60" y1="143.46" x2="314.90" y2="143.46" stroke="#000" stroke-width="3.6"/>
<line x1="310.60" y1="133.83" x2="314.90" y2="133.83" stroke="#000" stroke-width="3.6"/>
<line x1="310.60" y1="124.19" x2="317.80" y2="124.19" stroke="#000" stroke-width="3.6"/>
<line x1="310.60" y1="114.55" x2="314.90" y2="114.55" stroke="#000" stroke-width="3.6"/>
<line x1="310.60" y1="104.92" x2="314.90" y2="104.92" stroke="#000" stroke-width="3.6"/>
<line x1="310.60" y1="95.28" x2="314.90" y2="95.28" stroke="#000" stroke-width="3.6"/>
<line x1="310.60" y1="85.64" x2="314.90" y2="85.64" stroke="#000" stroke-width="3.6"/>
<line x1="310.60" y1="76.00" x2="317.80" y2="76.00" stroke="#000" stroke-width="3.6"/>
<line x1="310.60" y1="66.37" x2="314.90" y2="66.37" stroke="#000" stroke-width="3.6"/>
<line x1="310.60" y1="56.73" x2="314.90" y2="56.73" stroke="#000" stroke-width="3.6"/>
<text transform="translate(56.50 444.10) scale(0.920 1)" text-anchor="middle" font-size="30"><tspan dy="2.25" font-size="28.5">−</tspan><tspan dy="-2.25" dx="2.00">6</tspan></text>
<text transform="translate(141.20 444.10) scale(0.920 1)" text-anchor="middle" font-size="30"><tspan dy="2.25" font-size="28.5">−</tspan><tspan dy="-2.25" dx="2.00">4</tspan></text>
<text transform="translate(225.90 444.10) scale(0.920 1)" text-anchor="middle" font-size="30"><tspan dy="2.25" font-size="28.5">−</tspan><tspan dy="-2.25" dx="2.00">2</tspan></text>
<text transform="translate(395.30 444.10) scale(0.920 1)" text-anchor="middle" font-size="30">2</text>
<text transform="translate(480.00 444.10) scale(0.920 1)" text-anchor="middle" font-size="30">4</text>
<text transform="translate(564.70 444.10) scale(0.920 1)" text-anchor="middle" font-size="30">6</text>
<text transform="translate(305.00 375.42) scale(0.920 1)" text-anchor="end" font-size="30">0.5</text>
<text transform="translate(305.00 327.23) scale(0.920 1)" text-anchor="end" font-size="30">1.0</text>
<text transform="translate(305.00 279.05) scale(0.920 1)" text-anchor="end" font-size="30">1.5</text>
<text transform="translate(305.00 230.86) scale(0.920 1)" text-anchor="end" font-size="30">2.0</text>
<text transform="translate(305.00 182.68) scale(0.920 1)" text-anchor="end" font-size="30">2.5</text>
<text transform="translate(305.00 134.49) scale(0.920 1)" text-anchor="end" font-size="30">3.0</text>
<text transform="translate(305.00 86.30) scale(0.920 1)" text-anchor="end" font-size="30">3.5</text>
<line x1="776.80" y1="413.30" x2="1394.30" y2="413.30" stroke="#000" stroke-width="3.9"/>
<line x1="1085.30" y1="50.50" x2="1085.30" y2="431.90" stroke="#000" stroke-width="3.9"/>
<line x1="788.85" y1="413.30" x2="788.85" y2="409.00" stroke="#000" stroke-width="3.6"/>
<line x1="810.02" y1="413.30" x2="810.02" y2="409.00" stroke="#000" stroke-width="3.6"/>
<line x1="831.20" y1="413.30" x2="831.20" y2="406.10" stroke="#000" stroke-width="3.6"/>
<line x1="852.38" y1="413.30" x2="852.38" y2="409.00" stroke="#000" stroke-width="3.6"/>
<line x1="873.55" y1="413.30" x2="873.55" y2="409.00" stroke="#000" stroke-width="3.6"/>
<line x1="894.72" y1="413.30" x2="894.72" y2="409.00" stroke="#000" stroke-width="3.6"/>
<line x1="915.90" y1="413.30" x2="915.90" y2="406.10" stroke="#000" stroke-width="3.6"/>
<line x1="937.07" y1="413.30" x2="937.07" y2="409.00" stroke="#000" stroke-width="3.6"/>
<line x1="958.25" y1="413.30" x2="958.25" y2="409.00" stroke="#000" stroke-width="3.6"/>
<line x1="979.42" y1="413.30" x2="979.42" y2="409.00" stroke="#000" stroke-width="3.6"/>
<line x1="1000.60" y1="413.30" x2="1000.60" y2="406.10" stroke="#000" stroke-width="3.6"/>
<line x1="1021.77" y1="413.30" x2="1021.77" y2="409.00" stroke="#000" stroke-width="3.6"/>
<line x1="1042.95" y1="413.30" x2="1042.95" y2="409.00" stroke="#000" stroke-width="3.6"/>
<line x1="1064.12" y1="413.30" x2="1064.12" y2="409.00" stroke="#000" stroke-width="3.6"/>
<line x1="1106.47" y1="413.30" x2="1106.47" y2="409.00" stroke="#000" stroke-width="3.6"/>
<line x1="1127.65" y1="413.30" x2="1127.65" y2="409.00" stroke="#000" stroke-width="3.6"/>
<line x1="1148.83" y1="413.30" x2="1148.83" y2="409.00" stroke="#000" stroke-width="3.6"/>
<line x1="1170.00" y1="413.30" x2="1170.00" y2="406.10" stroke="#000" stroke-width="3.6"/>
<line x1="1191.17" y1="413.30" x2="1191.17" y2="409.00" stroke="#000" stroke-width="3.6"/>
<line x1="1212.35" y1="413.30" x2="1212.35" y2="409.00" stroke="#000" stroke-width="3.6"/>
<line x1="1233.52" y1="413.30" x2="1233.52" y2="409.00" stroke="#000" stroke-width="3.6"/>
<line x1="1254.70" y1="413.30" x2="1254.70" y2="406.10" stroke="#000" stroke-width="3.6"/>
<line x1="1275.88" y1="413.30" x2="1275.88" y2="409.00" stroke="#000" stroke-width="3.6"/>
<line x1="1297.05" y1="413.30" x2="1297.05" y2="409.00" stroke="#000" stroke-width="3.6"/>
<line x1="1318.22" y1="413.30" x2="1318.22" y2="409.00" stroke="#000" stroke-width="3.6"/>
<line x1="1339.40" y1="413.30" x2="1339.40" y2="406.10" stroke="#000" stroke-width="3.6"/>
<line x1="1360.58" y1="413.30" x2="1360.58" y2="409.00" stroke="#000" stroke-width="3.6"/>
<line x1="1381.75" y1="413.30" x2="1381.75" y2="409.00" stroke="#000" stroke-width="3.6"/>
<line x1="1085.30" y1="422.94" x2="1089.60" y2="422.94" stroke="#000" stroke-width="3.6"/>
<line x1="1085.30" y1="403.66" x2="1089.60" y2="403.66" stroke="#000" stroke-width="3.6"/>
<line x1="1085.30" y1="394.03" x2="1089.60" y2="394.03" stroke="#000" stroke-width="3.6"/>
<line x1="1085.30" y1="384.39" x2="1089.60" y2="384.39" stroke="#000" stroke-width="3.6"/>
<line x1="1085.30" y1="374.75" x2="1089.60" y2="374.75" stroke="#000" stroke-width="3.6"/>
<line x1="1085.30" y1="365.12" x2="1092.50" y2="365.12" stroke="#000" stroke-width="3.6"/>
<line x1="1085.30" y1="355.48" x2="1089.60" y2="355.48" stroke="#000" stroke-width="3.6"/>
<line x1="1085.30" y1="345.84" x2="1089.60" y2="345.84" stroke="#000" stroke-width="3.6"/>
<line x1="1085.30" y1="336.20" x2="1089.60" y2="336.20" stroke="#000" stroke-width="3.6"/>
<line x1="1085.30" y1="326.57" x2="1089.60" y2="326.57" stroke="#000" stroke-width="3.6"/>
<line x1="1085.30" y1="316.93" x2="1092.50" y2="316.93" stroke="#000" stroke-width="3.6"/>
<line x1="1085.30" y1="307.29" x2="1089.60" y2="307.29" stroke="#000" stroke-width="3.6"/>
<line x1="1085.30" y1="297.66" x2="1089.60" y2="297.66" stroke="#000" stroke-width="3.6"/>
<line x1="1085.30" y1="288.02" x2="1089.60" y2="288.02" stroke="#000" stroke-width="3.6"/>
<line x1="1085.30" y1="278.38" x2="1089.60" y2="278.38" stroke="#000" stroke-width="3.6"/>
<line x1="1085.30" y1="268.75" x2="1092.50" y2="268.75" stroke="#000" stroke-width="3.6"/>
<line x1="1085.30" y1="259.11" x2="1089.60" y2="259.11" stroke="#000" stroke-width="3.6"/>
<line x1="1085.30" y1="249.47" x2="1089.60" y2="249.47" stroke="#000" stroke-width="3.6"/>
<line x1="1085.30" y1="239.83" x2="1089.60" y2="239.83" stroke="#000" stroke-width="3.6"/>
<line x1="1085.30" y1="230.20" x2="1089.60" y2="230.20" stroke="#000" stroke-width="3.6"/>
<line x1="1085.30" y1="220.56" x2="1092.50" y2="220.56" stroke="#000" stroke-width="3.6"/>
<line x1="1085.30" y1="210.92" x2="1089.60" y2="210.92" stroke="#000" stroke-width="3.6"/>
<line x1="1085.30" y1="201.29" x2="1089.60" y2="201.29" stroke="#000" stroke-width="3.6"/>
<line x1="1085.30" y1="191.65" x2="1089.60" y2="191.65" stroke="#000" stroke-width="3.6"/>
<line x1="1085.30" y1="182.01" x2="1089.60" y2="182.01" stroke="#000" stroke-width="3.6"/>
<line x1="1085.30" y1="172.38" x2="1092.50" y2="172.38" stroke="#000" stroke-width="3.6"/>
<line x1="1085.30" y1="162.74" x2="1089.60" y2="162.74" stroke="#000" stroke-width="3.6"/>
<line x1="1085.30" y1="153.10" x2="1089.60" y2="153.10" stroke="#000" stroke-width="3.6"/>
<line x1="1085.30" y1="143.46" x2="1089.60" y2="143.46" stroke="#000" stroke-width="3.6"/>
<line x1="1085.30" y1="133.83" x2="1089.60" y2="133.83" stroke="#000" stroke-width="3.6"/>
<line x1="1085.30" y1="124.19" x2="1092.50" y2="124.19" stroke="#000" stroke-width="3.6"/>
<line x1="1085.30" y1="114.55" x2="1089.60" y2="114.55" stroke="#000" stroke-width="3.6"/>
<line x1="1085.30" y1="104.92" x2="1089.60" y2="104.92" stroke="#000" stroke-width="3.6"/>
<line x1="1085.30" y1="95.28" x2="1089.60" y2="95.28" stroke="#000" stroke-width="3.6"/>
<line x1="1085.30" y1="85.64" x2="1089.60" y2="85.64" stroke="#000" stroke-width="3.6"/>
<line x1="1085.30" y1="76.00" x2="1092.50" y2="76.00" stroke="#000" stroke-width="3.6"/>
<line x1="1085.30" y1="66.37" x2="1089.60" y2="66.37" stroke="#000" stroke-width="3.6"/>
<line x1="1085.30" y1="56.73" x2="1089.60" y2="56.73" stroke="#000" stroke-width="3.6"/>
<text transform="translate(831.20 444.10) scale(0.920 1)" text-anchor="middle" font-size="30"><tspan dy="2.25" font-size="28.5">−</tspan><tspan dy="-2.25" dx="2.00">6</tspan></text>
<text transform="translate(915.90 444.10) scale(0.920 1)" text-anchor="middle" font-size="30"><tspan dy="2.25" font-size="28.5">−</tspan><tspan dy="-2.25" dx="2.00">4</tspan></text>
<text transform="translate(1000.60 444.10) scale(0.920 1)" text-anchor="middle" font-size="30"><tspan dy="2.25" font-size="28.5">−</tspan><tspan dy="-2.25" dx="2.00">2</tspan></text>
<text transform="translate(1170.00 444.10) scale(0.920 1)" text-anchor="middle" font-size="30">2</text>
<text transform="translate(1254.70 444.10) scale(0.920 1)" text-anchor="middle" font-size="30">4</text>
<text transform="translate(1339.40 444.10) scale(0.920 1)" text-anchor="middle" font-size="30">6</text>
<text transform="translate(1079.70 375.42) scale(0.920 1)" text-anchor="end" font-size="30">0.5</text>
<text transform="translate(1079.70 327.23) scale(0.920 1)" text-anchor="end" font-size="30">1.0</text>
<text transform="translate(1079.70 279.05) scale(0.920 1)" text-anchor="end" font-size="30">1.5</text>
<text transform="translate(1079.70 230.86) scale(0.920 1)" text-anchor="end" font-size="30">2.0</text>
<text transform="translate(1079.70 182.68) scale(0.920 1)" text-anchor="end" font-size="30">2.5</text>
<text transform="translate(1079.70 134.49) scale(0.920 1)" text-anchor="end" font-size="30">3.0</text>
<text transform="translate(1079.70 86.30) scale(0.920 1)" text-anchor="end" font-size="30">3.5</text>
<line x1="12.00" y1="803.67" x2="619.60" y2="803.67" stroke="#000" stroke-width="3.9"/>
<line x1="316.00" y1="583.90" x2="316.00" y2="959.00" stroke="#000" stroke-width="3.9"/>
<line x1="24.80" y1="803.67" x2="24.80" y2="796.47" stroke="#000" stroke-width="3.6"/>
<line x1="53.92" y1="803.67" x2="53.92" y2="799.37" stroke="#000" stroke-width="3.6"/>
<line x1="83.04" y1="803.67" x2="83.04" y2="799.37" stroke="#000" stroke-width="3.6"/>
<line x1="112.16" y1="803.67" x2="112.16" y2="799.37" stroke="#000" stroke-width="3.6"/>
<line x1="141.28" y1="803.67" x2="141.28" y2="799.37" stroke="#000" stroke-width="3.6"/>
<line x1="170.40" y1="803.67" x2="170.40" y2="796.47" stroke="#000" stroke-width="3.6"/>
<line x1="199.52" y1="803.67" x2="199.52" y2="799.37" stroke="#000" stroke-width="3.6"/>
<line x1="228.64" y1="803.67" x2="228.64" y2="799.37" stroke="#000" stroke-width="3.6"/>
<line x1="257.76" y1="803.67" x2="257.76" y2="799.37" stroke="#000" stroke-width="3.6"/>
<line x1="286.88" y1="803.67" x2="286.88" y2="799.37" stroke="#000" stroke-width="3.6"/>
<line x1="345.12" y1="803.67" x2="345.12" y2="799.37" stroke="#000" stroke-width="3.6"/>
<line x1="374.24" y1="803.67" x2="374.24" y2="799.37" stroke="#000" stroke-width="3.6"/>
<line x1="403.36" y1="803.67" x2="403.36" y2="799.37" stroke="#000" stroke-width="3.6"/>
<line x1="432.48" y1="803.67" x2="432.48" y2="799.37" stroke="#000" stroke-width="3.6"/>
<line x1="461.60" y1="803.67" x2="461.60" y2="796.47" stroke="#000" stroke-width="3.6"/>
<line x1="490.72" y1="803.67" x2="490.72" y2="799.37" stroke="#000" stroke-width="3.6"/>
<line x1="519.84" y1="803.67" x2="519.84" y2="799.37" stroke="#000" stroke-width="3.6"/>
<line x1="548.96" y1="803.67" x2="548.96" y2="799.37" stroke="#000" stroke-width="3.6"/>
<line x1="578.08" y1="803.67" x2="578.08" y2="799.37" stroke="#000" stroke-width="3.6"/>
<line x1="607.20" y1="803.67" x2="607.20" y2="796.47" stroke="#000" stroke-width="3.6"/>
<line x1="316.00" y1="948.48" x2="320.30" y2="948.48" stroke="#000" stroke-width="3.6"/>
<line x1="316.00" y1="937.34" x2="320.30" y2="937.34" stroke="#000" stroke-width="3.6"/>
<line x1="316.00" y1="926.20" x2="320.30" y2="926.20" stroke="#000" stroke-width="3.6"/>
<line x1="316.00" y1="915.06" x2="323.20" y2="915.06" stroke="#000" stroke-width="3.6"/>
<line x1="316.00" y1="903.92" x2="320.30" y2="903.92" stroke="#000" stroke-width="3.6"/>
<line x1="316.00" y1="892.78" x2="320.30" y2="892.78" stroke="#000" stroke-width="3.6"/>
<line x1="316.00" y1="881.64" x2="320.30" y2="881.64" stroke="#000" stroke-width="3.6"/>
<line x1="316.00" y1="870.50" x2="320.30" y2="870.50" stroke="#000" stroke-width="3.6"/>
<line x1="316.00" y1="859.37" x2="323.20" y2="859.37" stroke="#000" stroke-width="3.6"/>
<line x1="316.00" y1="848.23" x2="320.30" y2="848.23" stroke="#000" stroke-width="3.6"/>
<line x1="316.00" y1="837.09" x2="320.30" y2="837.09" stroke="#000" stroke-width="3.6"/>
<line x1="316.00" y1="825.95" x2="320.30" y2="825.95" stroke="#000" stroke-width="3.6"/>
<line x1="316.00" y1="814.81" x2="320.30" y2="814.81" stroke="#000" stroke-width="3.6"/>
<line x1="316.00" y1="792.53" x2="320.30" y2="792.53" stroke="#000" stroke-width="3.6"/>
<line x1="316.00" y1="781.39" x2="320.30" y2="781.39" stroke="#000" stroke-width="3.6"/>
<line x1="316.00" y1="770.25" x2="320.30" y2="770.25" stroke="#000" stroke-width="3.6"/>
<line x1="316.00" y1="759.11" x2="320.30" y2="759.11" stroke="#000" stroke-width="3.6"/>
<line x1="316.00" y1="747.97" x2="323.20" y2="747.97" stroke="#000" stroke-width="3.6"/>
<line x1="316.00" y1="736.84" x2="320.30" y2="736.84" stroke="#000" stroke-width="3.6"/>
<line x1="316.00" y1="725.70" x2="320.30" y2="725.70" stroke="#000" stroke-width="3.6"/>
<line x1="316.00" y1="714.56" x2="320.30" y2="714.56" stroke="#000" stroke-width="3.6"/>
<line x1="316.00" y1="703.42" x2="320.30" y2="703.42" stroke="#000" stroke-width="3.6"/>
<line x1="316.00" y1="692.28" x2="323.20" y2="692.28" stroke="#000" stroke-width="3.6"/>
<line x1="316.00" y1="681.14" x2="320.30" y2="681.14" stroke="#000" stroke-width="3.6"/>
<line x1="316.00" y1="670.00" x2="320.30" y2="670.00" stroke="#000" stroke-width="3.6"/>
<line x1="316.00" y1="658.86" x2="320.30" y2="658.86" stroke="#000" stroke-width="3.6"/>
<line x1="316.00" y1="647.72" x2="320.30" y2="647.72" stroke="#000" stroke-width="3.6"/>
<line x1="316.00" y1="636.58" x2="323.20" y2="636.58" stroke="#000" stroke-width="3.6"/>
<line x1="316.00" y1="625.45" x2="320.30" y2="625.45" stroke="#000" stroke-width="3.6"/>
<line x1="316.00" y1="614.31" x2="320.30" y2="614.31" stroke="#000" stroke-width="3.6"/>
<line x1="316.00" y1="603.17" x2="320.30" y2="603.17" stroke="#000" stroke-width="3.6"/>
<line x1="316.00" y1="592.03" x2="320.30" y2="592.03" stroke="#000" stroke-width="3.6"/>
<text transform="translate(24.80 834.60) scale(0.920 1)" text-anchor="middle" font-size="30"><tspan dy="2.25" font-size="28.5">−</tspan><tspan dy="-2.25" dx="2.00">10</tspan></text>
<text transform="translate(170.40 834.60) scale(0.920 1)" text-anchor="middle" font-size="30"><tspan dy="2.25" font-size="28.5">−</tspan><tspan dy="-2.25" dx="2.00">5</tspan></text>
<text transform="translate(461.60 834.60) scale(0.920 1)" text-anchor="middle" font-size="30">5</text>
<text transform="translate(607.20 834.60) scale(0.920 1)" text-anchor="middle" font-size="30">10</text>
<text transform="translate(310.00 925.36) scale(0.920 1)" text-anchor="end" font-size="30"><tspan dy="2.25" font-size="28.5">−</tspan><tspan dy="-2.25" dx="2.00">1.0</tspan></text>
<text transform="translate(310.00 869.66) scale(0.920 1)" text-anchor="end" font-size="30"><tspan dy="2.25" font-size="28.5">−</tspan><tspan dy="-2.25" dx="2.00">0.5</tspan></text>
<text transform="translate(310.00 758.27) scale(0.920 1)" text-anchor="end" font-size="30">0.5</text>
<text transform="translate(310.00 702.58) scale(0.920 1)" text-anchor="end" font-size="30">1.0</text>
<text transform="translate(310.00 646.88) scale(0.920 1)" text-anchor="end" font-size="30">1.5</text>
<line x1="786.70" y1="803.67" x2="1394.40" y2="803.67" stroke="#000" stroke-width="3.9"/>
<line x1="1090.70" y1="584.00" x2="1090.70" y2="958.80" stroke="#000" stroke-width="3.9"/>
<line x1="799.30" y1="803.67" x2="799.30" y2="796.47" stroke="#000" stroke-width="3.6"/>
<line x1="828.44" y1="803.67" x2="828.44" y2="799.37" stroke="#000" stroke-width="3.6"/>
<line x1="857.58" y1="803.67" x2="857.58" y2="799.37" stroke="#000" stroke-width="3.6"/>
<line x1="886.72" y1="803.67" x2="886.72" y2="799.37" stroke="#000" stroke-width="3.6"/>
<line x1="915.86" y1="803.67" x2="915.86" y2="799.37" stroke="#000" stroke-width="3.6"/>
<line x1="945.00" y1="803.67" x2="945.00" y2="796.47" stroke="#000" stroke-width="3.6"/>
<line x1="974.14" y1="803.67" x2="974.14" y2="799.37" stroke="#000" stroke-width="3.6"/>
<line x1="1003.28" y1="803.67" x2="1003.28" y2="799.37" stroke="#000" stroke-width="3.6"/>
<line x1="1032.42" y1="803.67" x2="1032.42" y2="799.37" stroke="#000" stroke-width="3.6"/>
<line x1="1061.56" y1="803.67" x2="1061.56" y2="799.37" stroke="#000" stroke-width="3.6"/>
<line x1="1119.84" y1="803.67" x2="1119.84" y2="799.37" stroke="#000" stroke-width="3.6"/>
<line x1="1148.98" y1="803.67" x2="1148.98" y2="799.37" stroke="#000" stroke-width="3.6"/>
<line x1="1178.12" y1="803.67" x2="1178.12" y2="799.37" stroke="#000" stroke-width="3.6"/>
<line x1="1207.26" y1="803.67" x2="1207.26" y2="799.37" stroke="#000" stroke-width="3.6"/>
<line x1="1236.40" y1="803.67" x2="1236.40" y2="796.47" stroke="#000" stroke-width="3.6"/>
<line x1="1265.54" y1="803.67" x2="1265.54" y2="799.37" stroke="#000" stroke-width="3.6"/>
<line x1="1294.68" y1="803.67" x2="1294.68" y2="799.37" stroke="#000" stroke-width="3.6"/>
<line x1="1323.82" y1="803.67" x2="1323.82" y2="799.37" stroke="#000" stroke-width="3.6"/>
<line x1="1352.96" y1="803.67" x2="1352.96" y2="799.37" stroke="#000" stroke-width="3.6"/>
<line x1="1382.10" y1="803.67" x2="1382.10" y2="796.47" stroke="#000" stroke-width="3.6"/>
<line x1="1090.70" y1="948.48" x2="1095.00" y2="948.48" stroke="#000" stroke-width="3.6"/>
<line x1="1090.70" y1="937.34" x2="1095.00" y2="937.34" stroke="#000" stroke-width="3.6"/>
<line x1="1090.70" y1="926.20" x2="1095.00" y2="926.20" stroke="#000" stroke-width="3.6"/>
<line x1="1090.70" y1="915.06" x2="1097.90" y2="915.06" stroke="#000" stroke-width="3.6"/>
<line x1="1090.70" y1="903.92" x2="1095.00" y2="903.92" stroke="#000" stroke-width="3.6"/>
<line x1="1090.70" y1="892.78" x2="1095.00" y2="892.78" stroke="#000" stroke-width="3.6"/>
<line x1="1090.70" y1="881.64" x2="1095.00" y2="881.64" stroke="#000" stroke-width="3.6"/>
<line x1="1090.70" y1="870.50" x2="1095.00" y2="870.50" stroke="#000" stroke-width="3.6"/>
<line x1="1090.70" y1="859.37" x2="1097.90" y2="859.37" stroke="#000" stroke-width="3.6"/>
<line x1="1090.70" y1="848.23" x2="1095.00" y2="848.23" stroke="#000" stroke-width="3.6"/>
<line x1="1090.70" y1="837.09" x2="1095.00" y2="837.09" stroke="#000" stroke-width="3.6"/>
<line x1="1090.70" y1="825.95" x2="1095.00" y2="825.95" stroke="#000" stroke-width="3.6"/>
<line x1="1090.70" y1="814.81" x2="1095.00" y2="814.81" stroke="#000" stroke-width="3.6"/>
<line x1="1090.70" y1="792.53" x2="1095.00" y2="792.53" stroke="#000" stroke-width="3.6"/>
<line x1="1090.70" y1="781.39" x2="1095.00" y2="781.39" stroke="#000" stroke-width="3.6"/>
<line x1="1090.70" y1="770.25" x2="1095.00" y2="770.25" stroke="#000" stroke-width="3.6"/>
<line x1="1090.70" y1="759.11" x2="1095.00" y2="759.11" stroke="#000" stroke-width="3.6"/>
<line x1="1090.70" y1="747.97" x2="1097.90" y2="747.97" stroke="#000" stroke-width="3.6"/>
<line x1="1090.70" y1="736.84" x2="1095.00" y2="736.84" stroke="#000" stroke-width="3.6"/>
<line x1="1090.70" y1="725.70" x2="1095.00" y2="725.70" stroke="#000" stroke-width="3.6"/>
<line x1="1090.70" y1="714.56" x2="1095.00" y2="714.56" stroke="#000" stroke-width="3.6"/>
<line x1="1090.70" y1="703.42" x2="1095.00" y2="703.42" stroke="#000" stroke-width="3.6"/>
<line x1="1090.70" y1="692.28" x2="1097.90" y2="692.28" stroke="#000" stroke-width="3.6"/>
<line x1="1090.70" y1="681.14" x2="1095.00" y2="681.14" stroke="#000" stroke-width="3.6"/>
<line x1="1090.70" y1="670.00" x2="1095.00" y2="670.00" stroke="#000" stroke-width="3.6"/>
<line x1="1090.70" y1="658.86" x2="1095.00" y2="658.86" stroke="#000" stroke-width="3.6"/>
<line x1="1090.70" y1="647.72" x2="1095.00" y2="647.72" stroke="#000" stroke-width="3.6"/>
<line x1="1090.70" y1="636.58" x2="1097.90" y2="636.58" stroke="#000" stroke-width="3.6"/>
<line x1="1090.70" y1="625.45" x2="1095.00" y2="625.45" stroke="#000" stroke-width="3.6"/>
<line x1="1090.70" y1="614.31" x2="1095.00" y2="614.31" stroke="#000" stroke-width="3.6"/>
<line x1="1090.70" y1="603.17" x2="1095.00" y2="603.17" stroke="#000" stroke-width="3.6"/>
<line x1="1090.70" y1="592.03" x2="1095.00" y2="592.03" stroke="#000" stroke-width="3.6"/>
<text transform="translate(799.30 834.60) scale(0.920 1)" text-anchor="middle" font-size="30"><tspan dy="2.25" font-size="28.5">−</tspan><tspan dy="-2.25" dx="2.00">10</tspan></text>
<text transform="translate(945.00 834.60) scale(0.920 1)" text-anchor="middle" font-size="30"><tspan dy="2.25" font-size="28.5">−</tspan><tspan dy="-2.25" dx="2.00">5</tspan></text>
<text transform="translate(1236.40 834.60) scale(0.920 1)" text-anchor="middle" font-size="30">5</text>
<text transform="translate(1382.10 834.60) scale(0.920 1)" text-anchor="middle" font-size="30">10</text>
<text transform="translate(1084.70 925.36) scale(0.920 1)" text-anchor="end" font-size="30"><tspan dy="2.25" font-size="28.5">−</tspan><tspan dy="-2.25" dx="2.00">1.0</tspan></text>
<text transform="translate(1084.70 869.66) scale(0.920 1)" text-anchor="end" font-size="30"><tspan dy="2.25" font-size="28.5">−</tspan><tspan dy="-2.25" dx="2.00">0.5</tspan></text>
<text transform="translate(1084.70 758.27) scale(0.920 1)" text-anchor="end" font-size="30">0.5</text>
<text transform="translate(1084.70 702.58) scale(0.920 1)" text-anchor="end" font-size="30">1.0</text>
<text transform="translate(1084.70 646.88) scale(0.920 1)" text-anchor="end" font-size="30">1.5</text>
<text x="635.14" y="424.00" font-size="28.7" font-style="italic">ξ</text>
<text x="1409.74" y="424.00" font-size="28.7" font-style="italic">ξ</text>
<text x="635.04" y="814.50" font-size="28.7" font-style="italic">ξ</text>
<text x="1409.64" y="814.50" font-size="28.7" font-style="italic">ξ</text>
<text transform="translate(260.23 30.70) scale(1.400 1)" font-size="22.8">|</text>
<text transform="translate(273.46 31.00) scale(1.160 1)" font-size="27.0" font-style="italic">ϕ</text>
<text><tspan x="289.99" y="35.50" font-size="17.5">1</tspan><tspan x="303.32" y="30.80" font-size="28.0">(</tspan><tspan x="313.44" y="31.20" font-size="28.5" font-style="italic">ξ</tspan><tspan x="327.72" y="30.80" font-size="28.0">)</tspan></text>
<text transform="translate(339.73 30.70) scale(1.400 1)" font-size="22.8">|</text>
<text x="351.99" y="18.20" font-size="20.3">2</text>
<text transform="translate(1035.03 30.70) scale(1.400 1)" font-size="22.8">|</text>
<text transform="translate(1048.26 31.00) scale(1.160 1)" font-size="27.0" font-style="italic">ϕ</text>
<text><tspan x="1065.45" y="35.50" font-size="17.5">2</tspan><tspan x="1078.12" y="30.80" font-size="28.0">(</tspan><tspan x="1088.24" y="31.20" font-size="28.5" font-style="italic">ξ</tspan><tspan x="1102.52" y="30.80" font-size="28.0">)</tspan></text>
<text transform="translate(1114.53 30.70) scale(1.400 1)" font-size="22.8">|</text>
<text x="1126.78" y="18.20" font-size="20.3">2</text>
<line x1="27.40" y1="875.40" x2="61.70" y2="875.40" stroke="#5e81b5" stroke-width="3"/>
<text x="77.44" y="883.80" font-size="29.5">Re<tspan x="113.80" font-size="28.4">(</tspan></text>
<text transform="translate(123.87 883.60) scale(1.370 1)" font-size="27.5" font-style="italic" stroke="#fff" stroke-width="0.2">ϕ</text>
<text><tspan x="142.05" y="888.80" font-size="19.0">1</tspan><tspan x="155.30" y="883.80" font-size="28.4">(</tspan><tspan x="165.31" y="884.60" font-size="29.5" font-style="italic">ξ</tspan><tspan x="179.52" y="883.80" font-size="28.4">)</tspan><tspan x="188.72" y="883.80" font-size="28.4">)</tspan></text>
<line x1="27.40" y1="928.20" x2="61.70" y2="928.20" stroke="#e19c24" stroke-width="3"/>
<text x="77.75" y="936.40" font-size="29.5">Im<tspan x="110.20" font-size="28.4">(</tspan></text>
<text transform="translate(120.27 936.20) scale(1.370 1)" font-size="27.5" font-style="italic" stroke="#fff" stroke-width="0.2">ϕ</text>
<text><tspan x="138.45" y="941.40" font-size="19.0">1</tspan><tspan x="151.70" y="936.40" font-size="28.4">(</tspan><tspan x="161.72" y="937.20" font-size="29.5" font-style="italic">ξ</tspan><tspan x="175.92" y="936.40" font-size="28.4">)</tspan><tspan x="185.12" y="936.40" font-size="28.4">)</tspan></text>
<line x1="802.00" y1="613.90" x2="836.70" y2="613.90" stroke="#5e81b5" stroke-width="3"/>
<text x="852.44" y="622.30" font-size="29.5">Re<tspan x="888.80" font-size="28.4">(</tspan></text>
<text transform="translate(898.87 622.10) scale(1.370 1)" font-size="27.5" font-style="italic" stroke="#fff" stroke-width="0.2">ϕ</text>
<text><tspan x="917.33" y="627.30" font-size="19.0">2</tspan><tspan x="930.30" y="622.30" font-size="28.4">(</tspan><tspan x="940.32" y="623.10" font-size="29.5" font-style="italic">ξ</tspan><tspan x="954.52" y="622.30" font-size="28.4">)</tspan><tspan x="963.72" y="622.30" font-size="28.4">)</tspan></text>
<line x1="802.00" y1="666.70" x2="836.70" y2="666.70" stroke="#e19c24" stroke-width="3"/>
<text x="852.75" y="674.90" font-size="29.5">Im<tspan x="885.20" font-size="28.4">(</tspan></text>
<text transform="translate(895.27 674.70) scale(1.370 1)" font-size="27.5" font-style="italic" stroke="#fff" stroke-width="0.2">ϕ</text>
<text><tspan x="913.73" y="679.90" font-size="19.0">2</tspan><tspan x="926.70" y="674.90" font-size="28.4">(</tspan><tspan x="936.72" y="675.70" font-size="29.5" font-style="italic">ξ</tspan><tspan x="950.92" y="674.90" font-size="28.4">)</tspan><tspan x="960.12" y="674.90" font-size="28.4">)</tspan></text>
<text><tspan x="305.66" y="494.50" font-size="36.0" font-family="Liberation Serif, serif">(</tspan><tspan x="317.24" y="494.50" font-size="36.0" font-family="Liberation Serif, serif">a</tspan><tspan x="332.36" y="494.50" font-size="36.0" font-family="Liberation Serif, serif">)</tspan></text>
<text><tspan x="1079.66" y="494.50" font-size="36.0" font-family="Liberation Serif, serif">(</tspan><tspan x="1091.57" y="494.50" font-size="36.0" font-family="Liberation Serif, serif">b</tspan><tspan x="1107.86" y="494.50" font-size="36.0" font-family="Liberation Serif, serif">)</tspan></text>
<text><tspan x="306.76" y="1006.00" font-size="36.0" font-family="Liberation Serif, serif">(</tspan><tspan x="317.30" y="1006.00" font-size="36.0" font-family="Liberation Serif, serif">c</tspan><tspan x="331.46" y="1006.00" font-size="36.0" font-family="Liberation Serif, serif">)</tspan></text>
<text><tspan x="1079.66" y="1006.00" font-size="36.0" font-family="Liberation Serif, serif">(</tspan><tspan x="1090.31" y="1006.00" font-size="36.0" font-family="Liberation Serif, serif">d</tspan><tspan x="1107.76" y="1006.00" font-size="36.0" font-family="Liberation Serif, serif">)</tspan></text>
</svg>
</body></html>
